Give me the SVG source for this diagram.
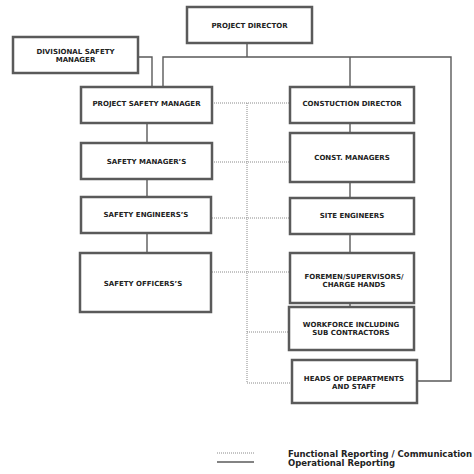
<svg xmlns="http://www.w3.org/2000/svg" width="474" height="474" viewBox="0 0 474 474">
  <style>
    .box { fill: #ffffff; stroke: #5a5a5a; stroke-width: 2.5; }
    .lbl { font-family: "DejaVu Sans", Verdana, sans-serif; font-weight: bold; font-size: 7px; fill: #222222; text-anchor: middle; }
    .solid { fill: none; stroke: #5a5a5a; stroke-width: 1.4; }
    .dot { fill: none; stroke: #8a8a8a; stroke-width: 1; stroke-dasharray: 1 1; }
    .legend { font-family: "DejaVu Sans", Verdana, sans-serif; font-weight: bold; font-size: 8.5px; fill: #222222; }
  </style>
  <rect width="474" height="474" fill="#ffffff"/>

  <!-- connectors -->
  <g id="connectors">
    <!-- operational reporting (solid) -->
    <path class="solid" d="M138,57 H152 V87"/>
    <path class="solid" d="M247,43 V57"/>
    <path class="solid" d="M163,87 V57 H451 V381 H417"/>
    <path class="solid" d="M350,57 V87"/>
    <path class="solid" d="M147,123 V143 M147,179 V197 M147,233 V253"/>
    <path class="solid" d="M350,123 V133 M350,182 V198 M350,234 V253 M350,303 V307"/>
    <!-- functional reporting (dotted) -->
    <path class="dot" d="M212,103 H290"/>
    <path class="dot" d="M247,103 V383"/>
    <path class="dot" d="M212,162 H290"/>
    <path class="dot" d="M212,218 H290"/>
    <path class="dot" d="M212,272 H290"/>
    <path class="dot" d="M247,332 H289"/>
    <path class="dot" d="M247,383 H292"/>
  </g>

  <g id="project-director">
    <rect class="box" x="187" y="7" width="125" height="36"/>
    <text class="lbl" x="249.5" y="27.5">PROJECT DIRECTOR</text>
  </g>
  <g id="divisional-safety-manager">
    <rect class="box" x="13" y="37" width="125" height="36"/>
    <text class="lbl" x="75.5" y="54">DIVISIONAL SAFETY</text>
    <text class="lbl" x="75.5" y="62">MANAGER</text>
  </g>
  <g id="project-safety-manager">
    <rect class="box" x="81" y="87" width="131" height="36"/>
    <text class="lbl" x="146.5" y="105.5">PROJECT SAFETY MANAGER</text>
  </g>
  <g id="safety-managers">
    <rect class="box" x="81" y="143" width="131" height="36"/>
    <text class="lbl" x="146.5" y="163.5">SAFETY MANAGER’S</text>
  </g>
  <g id="safety-engineers">
    <rect class="box" x="81" y="197" width="130" height="36"/>
    <text class="lbl" x="146" y="216.5">SAFETY ENGINEERS’S</text>
  </g>
  <g id="safety-officers">
    <rect class="box" x="80" y="253" width="131" height="59"/>
    <text class="lbl" x="143" y="285.5">SAFETY OFFICERS’S</text>
  </g>

  <g id="construction-director">
    <rect class="box" x="290" y="87" width="124" height="36"/>
    <text class="lbl" x="352" y="105.5">CONSTUCTION DIRECTOR</text>
  </g>
  <g id="const-managers">
    <rect class="box" x="290" y="133" width="124" height="49"/>
    <text class="lbl" x="352" y="159.5">CONST. MANAGERS</text>
  </g>
  <g id="site-engineers">
    <rect class="box" x="290" y="198" width="124" height="36"/>
    <text class="lbl" x="352" y="217.5">SITE ENGINEERS</text>
  </g>
  <g id="foremen">
    <rect class="box" x="290" y="253" width="124" height="50"/>
    <text class="lbl" x="354" y="278.5">FOREMEN/SUPERVISORS/</text>
    <text class="lbl" x="354" y="286.5">CHARGE HANDS</text>
  </g>
  <g id="workforce">
    <rect class="box" x="289" y="307" width="125" height="43"/>
    <text class="lbl" x="351" y="326.5">WORKFORCE INCLUDING</text>
    <text class="lbl" x="351" y="334.5">SUB CONTRACTORS</text>
  </g>
  <g id="heads-of-departments">
    <rect class="box" x="292" y="360" width="125" height="43"/>
    <text class="lbl" x="354" y="380.5">HEADS OF DEPARTMENTS</text>
    <text class="lbl" x="354" y="388.5">AND STAFF</text>
  </g>

  <g id="legend">
    <path class="dot" d="M217,453 H254"/>
    <path class="solid" d="M217,462 H254"/>
    <text class="legend" x="288" y="457">Functional Reporting / Communication</text>
    <text class="legend" x="288" y="466">Operational Reporting</text>
  </g>
</svg>
